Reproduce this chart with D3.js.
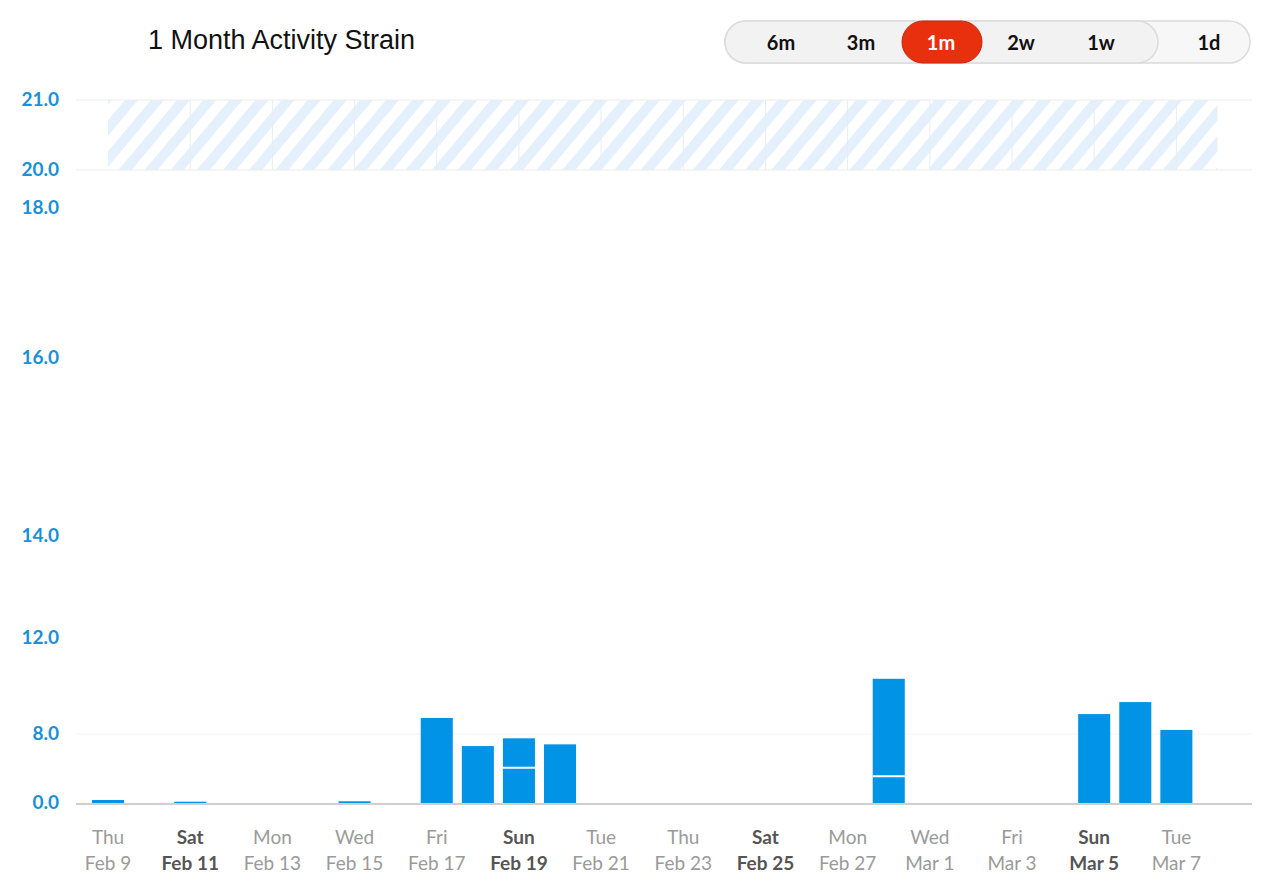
<!DOCTYPE html>
<html><head><meta charset="utf-8">
<script src="https://cdn.jsdelivr.net/npm/d3@7"></script>
<style>body{margin:0;background:#fff;font-family:"Liberation Sans",Arial,sans-serif}</style>
</head><body><svg id="chart" width="1266" height="892"></svg>
<script>
var days = ['Feb 9','Feb 10','Feb 11','Feb 12','Feb 13','Feb 14','Feb 15','Feb 16','Feb 17','Feb 18','Feb 19','Feb 20','Feb 21','Feb 22',
  'Feb 23','Feb 24','Feb 25','Feb 26','Feb 27','Feb 28','Mar 1','Mar 2','Mar 3','Mar 4','Mar 5','Mar 6','Mar 7','Mar 8'];
var weekdays = ['Thu','Fri','Sat','Sun','Mon','Tue','Wed'];
// first and second activity of each day
var strainA = [0.35,0,0.15,0,0,0,0.2,0,8.67,6.6,4.1,6.8,0,0,0,0,0,0,0,3.1,0,0,0,0,8.83,9.33,8.17,0];
var strainB = [0,0,0,0,0,0,0,0,0,0,3.4,0,0,0,0,0,0,0,0,7.2,0,0,0,0,0,0,0,0];
var yTicks = [0,8,12,14,16,18,20,21];
var ranges = ['6m','3m','1m','2w','1w','1d'];

var svg = d3.select('#chart');
var x = d3.scaleBand().domain(days).range([87.5, 1238]).paddingInner(0.22).paddingOuter(0.11);
var y = d3.scaleLinear().domain(yTicks).range([803,734,638,536,358,208,170,100]);
var cx = function(d){ return x(d) + x.bandwidth()/2; };

// hatched max band
var defs = svg.append('defs');
var pat = defs.append('pattern').attr('id','hatch').attr('patternUnits','userSpaceOnUse')
  .attr('width',20).attr('height',20).attr('patternTransform','rotate(40)');
pat.append('rect').attr('width',10).attr('height',20).attr('fill','#e4f1fc');
svg.append('rect').attr('x',cx(days[0])).attr('y',y(21))
  .attr('width',cx(days[days.length-1])-cx(days[0])).attr('height',y(20)-y(21)).attr('fill','url(#hatch)');
svg.selectAll('.vl').data(days.filter(function(d,i){return i%2==0 && i>0;})).enter().append('line')
  .attr('x1',cx).attr('x2',cx).attr('y1',y(21)).attr('y2',y(20)).attr('stroke','#e6edf3');

// grid lines
svg.selectAll('.gl').data([21,20,8]).enter().append('line')
  .attr('x1',76).attr('x2',1252).attr('y1',function(d){return y(d);}).attr('y2',function(d){return y(d);})
  .attr('stroke',function(d){return d==8?'#f4f4f4':'#ececec';});

// bars
var table = days.map(function(d,i){ return {day:d, a:strainA[i], b:strainB[i]}; });
var series = d3.stack().keys(['a','b'])(table);
svg.selectAll('.s').data(series).enter().append('g')
  .selectAll('rect').data(function(s){return s;}).enter().append('rect')
  .filter(function(d){return d[1]-d[0] > 0;})
  .attr('x',function(d){return x(d.data.day);}).attr('width',x.bandwidth())
  .attr('y',function(d){return y(d[1]);}).attr('height',function(d){return y(d[0])-y(d[1]);})
  .attr('fill','#0093e6');
// separator between stacked activities
svg.selectAll('.sep').data(table.filter(function(d){return d.b>0;})).enter().append('line')
  .attr('x1',function(d){return x(d.day);}).attr('x2',function(d){return x(d.day)+x.bandwidth();})
  .attr('y1',function(d){return y(d.a);}).attr('y2',function(d){return y(d.a);})
  .attr('stroke','#fff').attr('stroke-width',2);

// baseline
svg.append('line').attr('x1',76).attr('x2',1252).attr('y1',y(0)+1).attr('y2',y(0)+1).attr('stroke','#cfcfcf').attr('stroke-width',2);

// y labels
svg.selectAll('.yl').data(yTicks).enter().append('text')
  .attr('x',59).attr('y',function(d){return y(d)+6;}).attr('text-anchor','end')
  .attr('fill','#1a90d6').attr('font-size',19).attr('font-weight','bold').attr('font-family','Lato, sans-serif')
  .text(function(d){return d.toFixed(1);});

// x labels
var lab = svg.selectAll('.xl').data(days.filter(function(d,i){return i%2==0 && i<27;})).enter().append('text')
  .attr('text-anchor','middle').attr('font-size',19).attr('font-family','Lato, sans-serif')
  .attr('fill',function(d){var w=weekdays[days.indexOf(d)%7];return (w=='Sat'||w=='Sun')?'#555':'#9a9a9a';})
  .attr('font-weight',function(d){var w=weekdays[days.indexOf(d)%7];return (w=='Sat'||w=='Sun')?'bold':'normal';});
lab.append('tspan').attr('x',cx).attr('y',844).text(function(d){return weekdays[days.indexOf(d)%7];});
lab.append('tspan').attr('x',cx).attr('y',870).text(function(d){return d;});

// title
svg.append('text').attr('x',148).attr('y',49).attr('font-size',27).attr('fill','#111').text('1 Month Activity Strain');

// range selector
svg.append('rect').attr('x',725).attr('y',21).attr('width',525).attr('height',42).attr('rx',21)
  .attr('fill','#f7f7f7').attr('stroke','#dcdcdc').attr('stroke-width',1.5);
svg.append('rect').attr('x',725).attr('y',21).attr('width',433).attr('height',42).attr('rx',21)
  .attr('fill','#f2f2f2').attr('stroke','#dcdcdc').attr('stroke-width',1.5);
svg.append('rect').attr('x',902).attr('y',21).attr('width',80).attr('height',42).attr('rx',21)
  .attr('fill','#e8300f').attr('stroke','#c4260c');
var bx = [781,861,941,1021,1101,1209];
svg.selectAll('.rb').data(ranges).enter().append('text')
  .attr('x',function(d,i){return bx[i];}).attr('y',50).attr('text-anchor','middle')
  .attr('font-size',20).attr('font-family','Lato, sans-serif').attr('font-weight','bold')
  .attr('fill',function(d){return d=='1m'?'#fff':'#111';}).text(function(d){return d;});
</script></body></html>
